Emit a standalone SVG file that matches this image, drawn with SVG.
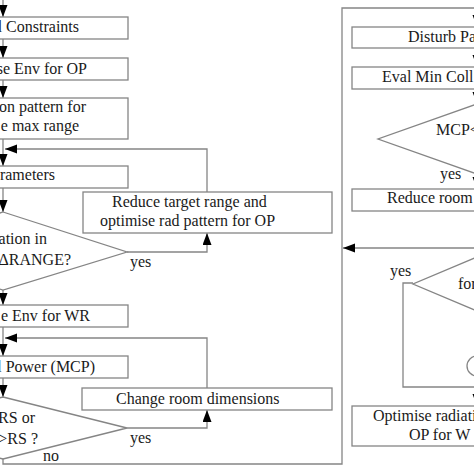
<svg xmlns="http://www.w3.org/2000/svg" width="474" height="474" viewBox="0 0 474 474">
<style>
.box{fill:#fff;stroke:#858585;stroke-width:1.3}
.ln{fill:none;stroke:#858585;stroke-width:1.3}
.t{font-family:"Liberation Serif","Times New Roman",serif;font-size:16px;fill:#1a1a1a}
.e{text-anchor:end}
</style>
<defs>
<marker id="ah" markerUnits="userSpaceOnUse" markerWidth="13" markerHeight="10" refX="12" refY="4.5" orient="auto" viewBox="0 0 13 10">
<path d="M0,0 L12,4.5 L0,9 z" fill="#000"/>
</marker>
</defs>
<rect width="474" height="474" fill="#fff"/>
<g id="connectors">
<line class="ln" x1="3" y1="0" x2="3" y2="17" marker-end="url(#ah)"/>
<line class="ln" x1="3" y1="39" x2="3" y2="58" marker-end="url(#ah)"/>
<line class="ln" x1="3" y1="80" x2="3" y2="98" marker-end="url(#ah)"/>
<line class="ln" x1="3" y1="139" x2="3" y2="166" marker-end="url(#ah)"/>
<line class="ln" x1="3" y1="188" x2="3" y2="212" marker-end="url(#ah)"/>
<line class="ln" x1="3" y1="290" x2="3" y2="305" marker-end="url(#ah)"/>
<line class="ln" x1="3" y1="327" x2="3" y2="356" marker-end="url(#ah)"/>
<line class="ln" x1="3" y1="378" x2="3" y2="397" marker-end="url(#ah)"/>
<polyline class="ln" points="3,459 3,464 342,464 342,8 480,8"/>
<polyline class="ln" points="207,193 207,149 5,149" marker-end="url(#ah)"/>
<polyline class="ln" points="127,252 207,252 207,233" marker-end="url(#ah)"/>
<polyline class="ln" points="207,388 207,338 5,338" marker-end="url(#ah)"/>
<polyline class="ln" points="127,428 207,428 207,410" marker-end="url(#ah)"/>
<line class="ln" x1="480" y1="248" x2="343" y2="248" marker-end="url(#ah)"/>
<line class="ln" x1="477" y1="8" x2="477" y2="27" marker-end="url(#ah)"/>
<line class="ln" x1="477" y1="48" x2="477" y2="67" marker-end="url(#ah)"/>
<line class="ln" x1="477" y1="89" x2="477" y2="104" marker-end="url(#ah)"/>
<line class="ln" x1="477" y1="174" x2="477" y2="189" marker-end="url(#ah)"/>
<polyline class="ln" points="413,283 403,283 403,387 480,387"/>
<line class="ln" x1="477" y1="387" x2="477" y2="406" marker-end="url(#ah)"/>
</g>
<g id="n1"><rect class="box" x="-10" y="17" width="138" height="22"/><text class="t e" x="79" y="32">l Constraints</text></g>
<g id="n2"><rect class="box" x="-10" y="58" width="138" height="22"/><text class="t e" x="87" y="74">se Env for OP</text></g>
<g id="n3"><rect class="box" x="-10" y="98" width="138" height="41"/><text class="t e" x="86" y="112">on pattern for</text><text class="t e" x="79" y="131">e max range</text></g>
<g id="n4"><rect class="box" x="-10" y="166" width="138" height="22"/><text class="t e" x="55" y="180">rameters</text></g>
<g id="d1"><polygon class="box" points="3,212 127,252 3,290 -121,252"/><text class="t e" x="47" y="244">ation in</text><text class="t e" x="71" y="265">ΔRANGE?</text><text class="t" x="130" y="267">yes</text></g>
<g id="n5"><rect class="box" x="83" y="192" width="249" height="41"/><text class="t" x="112" y="207">Reduce target range and</text><text class="t" x="100" y="226">optimise rad pattern for OP</text></g>
<g id="n6"><rect class="box" x="-10" y="305" width="138" height="22"/><text class="t e" x="90" y="321">e Env for WR</text></g>
<g id="n7"><rect class="box" x="-10" y="356" width="138" height="22"/><text class="t e" x="95" y="372">l Power (MCP)</text></g>
<g id="d2"><polygon class="box" points="3,397 127,428 3,459 -121,428"/><text class="t e" x="35" y="423">RS or</text><text class="t e" x="38" y="444">&gt;RS ?</text><text class="t" x="130" y="443">yes</text><text class="t" x="43" y="461">no</text></g>
<g id="n8"><rect class="box" x="82" y="388" width="250" height="22"/><text class="t" x="116" y="404">Change room dimensions</text></g>
<g id="r1"><rect class="box" x="352" y="27" width="140" height="21"/><text class="t" x="408" y="42">Disturb Pa</text></g>
<g id="r2"><rect class="box" x="352" y="67" width="140" height="22"/><text class="t" x="382" y="82">Eval Min Coll</text></g>
<g id="rd1"><polygon class="box" points="477,104 576,139 477,174 378,139"/><text class="t" x="436" y="135">MCP&lt;</text><text class="t" x="440" y="179">yes</text></g>
<g id="r3"><rect class="box" x="352" y="189" width="140" height="22"/><text class="t" x="387" y="203">Reduce room</text></g>
<g id="rd2"><polygon class="box" points="477,257 541,284 477,311 413,284"/><text class="t" x="458" y="289">for</text><text class="t" x="390" y="276">yes</text></g>
<g id="rc"><circle class="box" cx="477" cy="366" r="10"/></g>
<g id="r4"><rect class="box" x="352" y="406" width="140" height="40"/><text class="t" x="373" y="421">Optimise radiati</text><text class="t" x="409" y="440">OP for W</text></g>
</svg>
